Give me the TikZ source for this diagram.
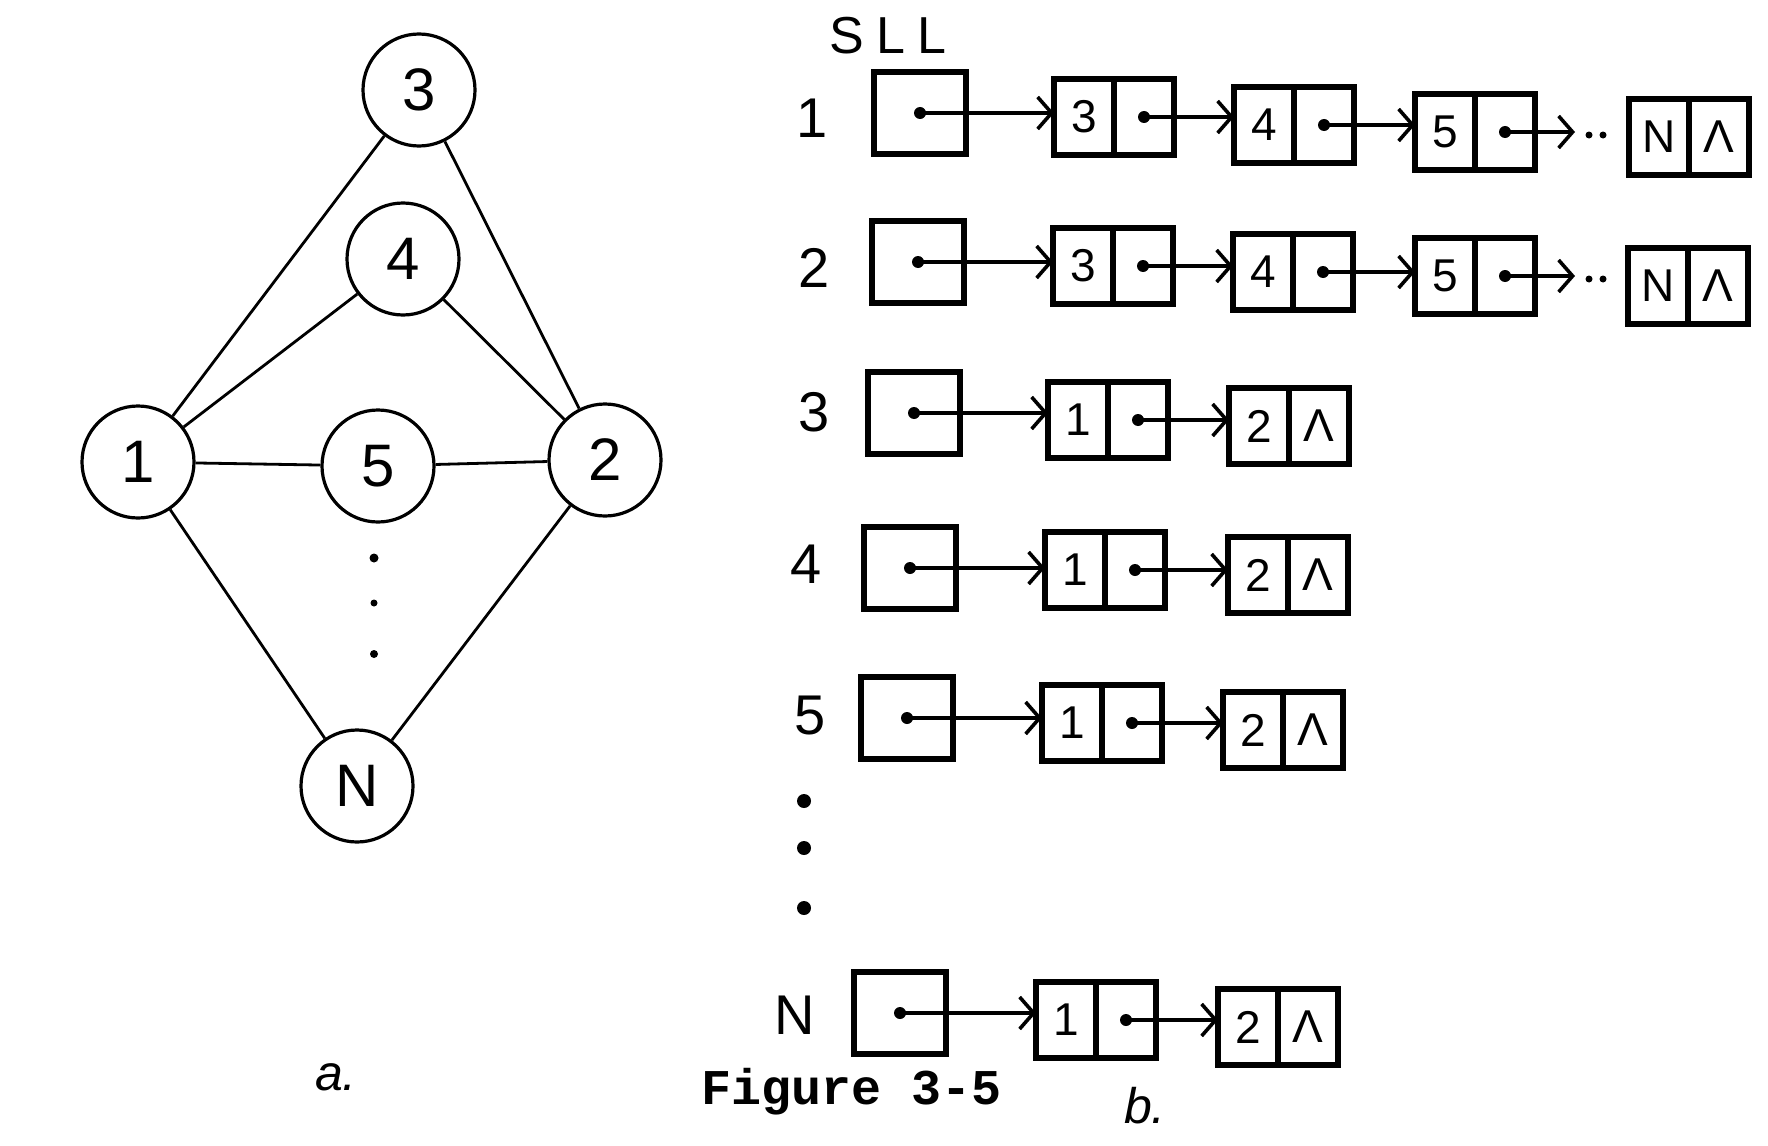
\documentclass[tikz,border=0pt]{standalone}
\usepackage{fontspec}
\newfontfamily\handfont{Liberation Sans}
\newfontfamily\handit{Liberation Sans Italic}
\newfontfamily\typefont{Liberation Mono}
\usetikzlibrary{arrows.meta}
\newcommand\elemcell[5]{%
  \node[cell,anchor=east] (#1v) at (#2,#3) {#4};
  \node[cell,anchor=west] (#1p) at (#2,#3) {#5};}
\newcommand\lnk[2]{%
  \fill (#1.center) circle (6pt);
  \draw[ptr] (#1.center) -- (#1.center -| #2.west);}
\begin{document}
\begin{tikzpicture}[x=1pt,y=-1pt,
  gnode/.style={circle,draw,line width=3.2pt,minimum size=112pt,inner sep=0pt,font=\handfont\fontsize{60}{66}\selectfont},
  gedge/.style={line width=2.8pt},
  cell/.style={draw,line width=5.5pt,minimum width=60pt,minimum height=76pt,inner sep=0pt,outer sep=0pt,font=\handfont\fontsize{46}{52}\selectfont},
  headbox/.style={draw,line width=5.5pt,minimum width=92pt,minimum height=82pt,inner sep=0pt},
  ptr/.style={line width=3.6pt,-{Straight Barb[length=14pt,width=32pt,line width=3.6pt]}},
  rowlab/.style={font=\handfont\fontsize{56}{62}\selectfont},
  caplab/.style={font=\handit\fontsize{50}{56}\selectfont},
]
\useasboundingbox[fill=white] (0,0) rectangle (1768,1145);

% ---- graph (a)
\node[gnode] (g3) at (419,90) {3};
\node[gnode] (g4) at (403,259) {4};
\node[gnode] (g1) at (138,462) {1};
\node[gnode] (g5) at (378,466) {5};
\node[gnode] (g2) at (605,460) {2};
\node[gnode] (gN) at (357,786) {N};
\draw[gedge] (g1) -- (g3);
\draw[gedge] (g1) -- (g4);
\draw[gedge] (g1) -- (g5);
\draw[gedge] (g1) -- (gN);
\draw[gedge] (g3) -- (g2);
\draw[gedge] (g4) -- (g2);
\draw[gedge] (g5) -- (g2);
\draw[gedge] (gN) -- (g2);
\fill (374,558) circle (4.5pt) (374,603) circle (3.5pt) (374,654) circle (4pt);
\node[caplab] (la) at (336,1077) {a.};

% ---- lists (b)
\node[font=\handfont\fontsize{52}{58}\selectfont] (sll) at (888,36) {S\hspace{12pt}L\hspace{12pt}L};

\node[rowlab] (l1) at (812,118) {1};
\node[rowlab] (l2) at (814,268) {2};
\node[rowlab] (l3) at (814,412) {3};
\node[rowlab] (l4) at (806,564) {4};
\node[rowlab] (l5) at (810,716) {5};
\node[rowlab] (lN) at (795,1015) {N};
\fill (804,801) circle (7pt) (804,848) circle (7pt) (804,908) circle (7pt);

% row 1
\node[headbox] (r1h) at (920,113) {};
\elemcell{r1a}{1114}{117}{3}{}
\elemcell{r1b}{1294}{125}{4}{}
\elemcell{r1c}{1475}{132}{5}{}
\elemcell{r1d}{1689}{137}{N}{Λ}
\lnk{r1h}{r1av}
\lnk{r1ap}{r1bv}
\lnk{r1bp}{r1cv}
\coordinate (r1end) at (1575,132);
\fill (r1cp.center) circle (6pt);
\draw[ptr] (r1cp.center) -- (r1cp.center -| r1end);
\fill (1589,135) circle (3.5pt) (1603,135) circle (3.5pt);

% row 2
\node[headbox] (r2h) at (918,262) {};
\elemcell{r2a}{1113}{266}{3}{}
\elemcell{r2b}{1293}{272}{4}{}
\elemcell{r2c}{1475}{276}{5}{}
\elemcell{r2d}{1688}{286}{N}{Λ}
\lnk{r2h}{r2av}
\lnk{r2ap}{r2bv}
\lnk{r2bp}{r2cv}
\coordinate (r2end) at (1575,276);
\fill (r2cp.center) circle (6pt);
\draw[ptr] (r2cp.center) -- (r2cp.center -| r2end);
\fill (1589,279) circle (3.5pt) (1603,279) circle (3.5pt);

% row 3
\node[headbox] (r3h) at (914,413) {};
\elemcell{r3a}{1108}{420}{1}{}
\elemcell{r3b}{1289}{426}{2}{Λ}
\lnk{r3h}{r3av}
\lnk{r3ap}{r3bv}

% row 4
\node[headbox] (r4h) at (910,568) {};
\elemcell{r4a}{1105}{570}{1}{}
\elemcell{r4b}{1288}{575}{2}{Λ}
\lnk{r4h}{r4av}
\lnk{r4ap}{r4bv}

% row 5
\node[headbox] (r5h) at (907,718) {};
\elemcell{r5a}{1102}{723}{1}{}
\elemcell{r5b}{1283}{730}{2}{Λ}
\lnk{r5h}{r5av}
\lnk{r5ap}{r5bv}

% row N
\node[headbox] (rNh) at (900,1013) {};
\elemcell{rNa}{1096}{1020}{1}{}
\elemcell{rNb}{1278}{1027}{2}{Λ}
\lnk{rNh}{rNav}
\lnk{rNap}{rNbv}

\node[font=\typefont\bfseries\fontsize{50}{56}\selectfont] (fig) at (852,1092) {Figure 3-5};
\node[caplab] (lb) at (1145,1106) {b.};
\end{tikzpicture}
\end{document}
